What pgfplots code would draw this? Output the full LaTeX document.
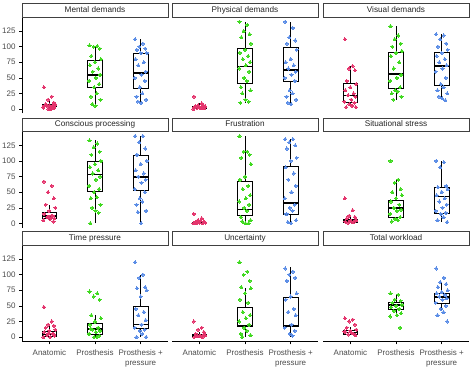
\documentclass[border=0pt]{standalone}
\usepackage{fontspec}
\setmainfont{Liberation Sans}
\usepackage{pgfplots}
\pgfplotsset{compat=1.18}
\usepgfplotslibrary{statistics}
\definecolor{cA}{HTML}{E4356D}
\definecolor{cB}{HTML}{3FD91F}
\definecolor{cC}{HTML}{5B8DE6}
\pgfplotsset{
  panel/.style={scale only axis, width=146pt, height=96pt, anchor=south west,
    xmin=0.4, xmax=3.6, ymin=-7, ymax=147,
    ytick={0,25,50,75,100,125}, xtick={1,2,3},
    xticklabels={Anatomic, Prosthesis, {Prosthesis +\\pressure}},
    xticklabel style={align=center, yshift=-2pt},
    tick align=outside, major tick length=3pt,
    tick style={black, line width=0.5pt},
    axis line style={black, line width=0.5pt, -},
    /pgf/number format/assume math mode=true,
    tick label style={font=\fontsize{8}{10}\selectfont, text=black!70},
    every axis title shift=0pt,
    title style={at={(0.5,1)}, anchor=south, draw=black!75, line width=0.6pt, fill=white,
      minimum width=146pt, minimum height=13.5pt, inner sep=0pt, yshift=0pt,
      text height=6pt, text depth=1.8pt,
      font=\fontsize{8.2}{10}\selectfont, text=black!85},
    boxplot/draw direction=y,
    boxplot/box extend=0.32, boxplot/whisker extend=0,
    boxplot/every median/.style={line width=1.6pt},
  },
  tl/.style={panel, axis y line*=left, axis x line=none},
  tm/.style={panel, axis lines=none},
  bl/.style={panel, axis y line*=left, axis x line*=bottom},
  bm/.style={panel, axis y line=none, axis x line*=bottom},
}
\newcommand{\pts}[2]{\addplot[color=#1, only marks, mark=*, mark size=1.55pt, mark options={solid, draw=#1, fill=#1, line width=0pt}] coordinates {#2};}
\newcommand{\bx}[6]{\addplot[boxplot prepared={draw position=#1, lower whisker=#2, lower quartile=#3, median=#4, upper quartile=#5, upper whisker=#6}, draw=black, fill=white, fill opacity=0.55, line width=0.5pt] coordinates {};}
\begin{document}
\begin{tikzpicture}
\path[use as bounding box] (0,0) rectangle (474pt,383pt);
% Row 1
\begin{axis}[tl, at={(22pt,269.6pt)}, title={Mental demands}]
\pts{cA}{(0.88,35)(1.05,20)(0.97,15)(1.10,10)(0.92,8)(1.13,7)(1.00,6)(0.89,5)(1.07,5)(0.95,4)(1.11,3)(1.02,3)(0.87,2)(1.09,1)(0.98,0)(1.04,0)(0.91,6)(1.12,8)}
\pts{cB}{(1.88,102)(2.05,101)(1.97,100)(2.10,97)(1.92,85)(2.13,80)(2.00,75)(1.89,70)(2.07,65)(1.95,60)(2.11,55)(2.02,50)(1.87,45)(2.09,40)(1.98,35)(2.04,25)(1.91,20)(2.12,15)(1.94,8)(2.01,5)}
\pts{cC}{(2.88,112)(3.05,105)(2.97,100)(3.10,97)(2.92,95)(3.13,90)(3.00,90)(2.89,80)(3.07,75)(2.95,70)(3.11,60)(3.02,55)(2.87,50)(3.09,45)(2.98,35)(3.04,25)(2.91,20)(3.12,15)(2.94,12)(3.01,10)}
\bx{1}{0}{4}{6}{8}{14}
\bx{2}{5}{35}{55}{78.5}{101}
\bx{3}{10}{33}{58}{89}{112}
\end{axis}
\begin{axis}[tm, at={(172pt,269.6pt)}, title={Physical demands}]
\pts{cA}{(0.88,20)(1.05,9)(0.97,6)(1.10,5)(0.92,4)(1.13,4)(1.00,3)(0.89,3)(1.07,2)(0.95,2)(1.11,1)(1.02,1)(0.87,0)(1.09,5)(0.98,3)(1.04,2)}
\pts{cB}{(1.88,140)(2.05,135)(1.97,125)(2.10,120)(1.92,115)(2.13,105)(2.00,95)(1.89,90)(2.07,85)(1.95,80)(2.11,75)(2.02,70)(1.87,65)(2.09,60)(1.98,50)(2.04,45)(1.91,35)(2.12,30)(1.94,25)(2.01,15)(2.08,12)(1.90,10)}
\pts{cC}{(2.88,140)(3.05,130)(2.97,115)(3.10,110)(2.92,105)(3.13,95)(3.00,80)(2.89,75)(3.07,70)(2.95,65)(3.11,60)(3.02,55)(2.87,50)(3.09,45)(2.98,30)(3.04,25)(2.91,20)(3.12,15)(2.94,10)(3.01,8)}
\bx{1}{0}{2}{3.7}{5}{9}
\bx{2}{10}{41}{68}{97}{140}
\bx{3}{7.5}{44}{63}{99}{140}
\end{axis}
\begin{axis}[tm, at={(323pt,269.6pt)}, title={Visual demands}]
\pts{cA}{(0.88,112)(1.05,69)(0.97,65)(1.10,62)(0.92,45)(1.13,40)(1.00,35)(0.89,30)(1.07,25)(0.95,22)(1.11,20)(1.02,15)(0.87,12)(1.09,10)(0.98,8)(1.04,5)(0.91,3)(1.12,3)}
\pts{cB}{(1.88,133)(2.05,118)(1.97,112)(2.10,105)(1.92,100)(2.13,93)(2.00,90)(1.89,85)(2.07,75)(1.95,65)(2.11,55)(2.02,50)(1.87,45)(2.09,35)(1.98,30)(2.04,28)(1.91,25)(2.12,20)(1.94,15)}
\pts{cC}{(2.88,120)(3.05,118)(2.97,112)(3.10,105)(2.92,100)(3.13,95)(3.00,90)(2.89,85)(3.07,80)(2.95,75)(3.11,70)(3.02,65)(2.87,60)(3.09,50)(2.98,40)(3.04,35)(2.91,30)(3.12,25)(2.94,20)(3.01,17)(3.08,14)}
\bx{1}{3}{11}{22}{41}{69}
\bx{2}{14}{34}{56}{91}{133}
\bx{3}{14}{38}{69}{91}{121}
\end{axis}
% Row 2
\begin{axis}[tl, at={(22pt,155.3pt)}, title={Conscious processing}]
\pts{cA}{(0.88,67)(1.05,60)(0.97,50)(1.10,40)(0.92,30)(1.13,25)(1.00,20)(0.89,15)(1.07,12)(0.95,10)(1.11,8)(1.02,7)(0.87,5)(1.09,3)(0.98,10)(1.04,12)}
\pts{cB}{(1.88,133)(2.05,128)(1.97,122)(2.10,115)(1.92,110)(2.13,100)(2.00,95)(1.89,90)(2.07,85)(1.95,80)(2.11,75)(2.02,70)(1.87,60)(2.09,55)(1.98,50)(2.04,42)(1.91,40)(2.12,30)(1.94,25)(2.01,20)(2.08,17)(1.90,0)}
\pts{cC}{(2.88,140)(3.05,140)(2.97,130)(3.10,120)(2.92,110)(3.13,100)(3.00,95)(2.89,85)(3.07,80)(2.95,75)(3.11,70)(3.02,65)(2.87,55)(3.09,50)(2.98,40)(3.04,35)(2.91,30)(3.12,20)(2.94,18)(3.01,0)}
\bx{1}{3}{7.5}{12}{18}{30}
\bx{2}{0}{51}{78.5}{99}{133}
\bx{3}{0}{53}{74}{109.5}{140}
\end{axis}
\begin{axis}[tm, at={(172pt,155.3pt)}, title={Frustration}]
\pts{cA}{(0.88,15)(1.05,8)(0.97,5)(1.10,3)(0.92,2)(1.13,1)(1.00,1)(0.89,0)(1.07,0)(0.95,0)(1.11,2)(1.02,4)(0.87,0)}
\pts{cB}{(1.88,140)(2.05,115)(1.97,115)(2.10,110)(1.92,105)(2.13,95)(2.00,75)(1.89,70)(2.07,60)(1.95,55)(2.11,45)(2.02,40)(1.87,35)(2.09,30)(1.98,25)(2.04,20)(1.91,10)(2.12,5)(1.94,3)(2.01,0)(2.08,0)}
\pts{cC}{(2.88,135)(3.05,135)(2.97,130)(3.10,125)(2.92,120)(3.13,105)(3.00,100)(2.89,90)(3.07,80)(2.95,70)(3.11,60)(3.02,50)(2.87,40)(3.09,30)(2.98,25)(3.04,20)(2.91,15)(3.12,5)(2.94,2)(3.01,0)}
\bx{1}{0}{0}{1}{2}{5}
\bx{2}{0}{13}{22}{67}{140}
\bx{3}{0}{15}{33}{92}{136}
\end{axis}
\begin{axis}[tm, at={(323pt,155.3pt)}, title={Situational stress}]
\pts{cA}{(0.88,40)(1.05,21)(0.97,12)(1.10,10)(0.92,8)(1.13,5)(1.00,4)(0.89,3)(1.07,2)(0.95,1)(1.11,5)(1.02,3)}
\pts{cB}{(1.88,100)(2.05,70)(1.97,65)(2.10,55)(1.92,50)(2.13,45)(2.00,40)(1.89,35)(2.07,30)(1.95,25)(2.11,22)(2.02,20)(1.87,15)(2.09,10)(1.98,7)(2.04,5)(1.91,3)}
\pts{cC}{(2.88,100)(3.05,98)(2.97,90)(3.10,60)(2.92,58)(3.13,55)(3.00,50)(2.89,45)(3.07,40)(2.95,35)(3.11,30)(3.02,25)(2.87,20)(3.09,17)(2.98,15)(3.04,10)(2.91,5)(3.12,2)}
\bx{1}{0}{2}{4}{7}{12}
\bx{2}{3}{10}{25}{37}{69}
\bx{3}{2}{16}{43}{58}{100}
\end{axis}
% Row 3
\begin{axis}[bl, at={(22pt,41.6pt)}, title={Time pressure}]
\pts{cA}{(0.88,48)(1.05,25)(0.97,20)(1.10,18)(0.92,15)(1.13,12)(1.00,10)(0.89,8)(1.07,5)(0.95,3)(1.11,2)(1.02,0)(0.87,0)(1.09,4)(0.98,6)}
\pts{cB}{(1.88,73)(2.05,70)(1.97,65)(2.10,60)(1.92,35)(2.13,30)(2.00,25)(1.89,20)(2.07,15)(1.95,12)(2.11,10)(2.02,8)(1.87,5)(2.09,2)(1.98,0)(2.04,0)(1.91,13)}
\pts{cC}{(2.88,120)(3.05,100)(2.97,95)(3.10,80)(2.92,78)(3.13,75)(3.00,65)(2.89,45)(3.07,40)(2.95,35)(3.11,27)(3.02,20)(2.87,15)(3.09,12)(2.98,10)(3.04,5)(2.91,0)(3.12,0)}
\bx{1}{0}{2}{4.3}{8.5}{19}
\bx{2}{0}{4}{13}{22}{35}
\bx{3}{0}{14}{20}{50}{100}
\end{axis}
\begin{axis}[bm, at={(172pt,41.6pt)}, title={Uncertainty}]
\pts{cA}{(0.88,25)(1.05,15)(0.97,12)(1.10,8)(0.92,5)(1.13,3)(1.00,2)(0.89,0)(1.07,0)(0.95,1)(1.11,4)(1.02,2)}
\pts{cB}{(1.88,120)(2.05,105)(1.97,100)(2.10,90)(1.92,80)(2.13,78)(2.00,70)(1.89,60)(2.07,55)(1.95,40)(2.11,35)(2.02,30)(1.87,25)(2.09,20)(1.98,15)(2.04,10)(1.91,5)(2.12,3)(1.94,0)}
\pts{cC}{(2.88,110)(3.05,105)(2.97,100)(3.10,95)(2.92,90)(3.13,70)(3.00,65)(2.89,60)(3.07,45)(2.95,40)(3.11,35)(3.02,20)(2.87,15)(3.09,10)(2.98,5)(3.04,2)}
\bx{1}{0}{1}{2.7}{4}{8}
\bx{2}{0}{16.6}{18.7}{47.5}{78}
\bx{3}{0}{16.6}{18}{64.6}{113}
\end{axis}
\begin{axis}[bm, at={(323pt,41.6pt)}, title={Total workload}]
\pts{cA}{(0.88,30)(1.05,28)(0.97,25)(1.10,20)(0.92,15)(1.13,12)(1.00,10)(0.89,8)(1.07,5)(0.95,4)(1.11,3)(1.02,7)(0.87,9)}
\pts{cB}{(1.88,70)(2.05,68)(1.97,60)(2.10,58)(1.92,55)(2.13,52)(2.00,50)(1.89,48)(2.07,45)(1.95,42)(2.11,38)(2.02,35)(1.87,33)(2.09,15)}
\pts{cC}{(2.88,110)(3.05,95)(2.97,88)(3.10,85)(2.92,80)(3.13,75)(3.00,72)(2.89,70)(3.07,68)(2.95,65)(3.11,62)(3.02,60)(2.87,55)(3.09,50)(2.98,45)(3.04,40)(2.91,35)(3.12,25)}
\bx{1}{3}{4.8}{7.5}{11}{16.5}
\bx{2}{33}{45}{51}{56.6}{68}
\bx{3}{42}{55}{64.6}{71}{86}
\end{axis}
\end{tikzpicture}
\end{document}
